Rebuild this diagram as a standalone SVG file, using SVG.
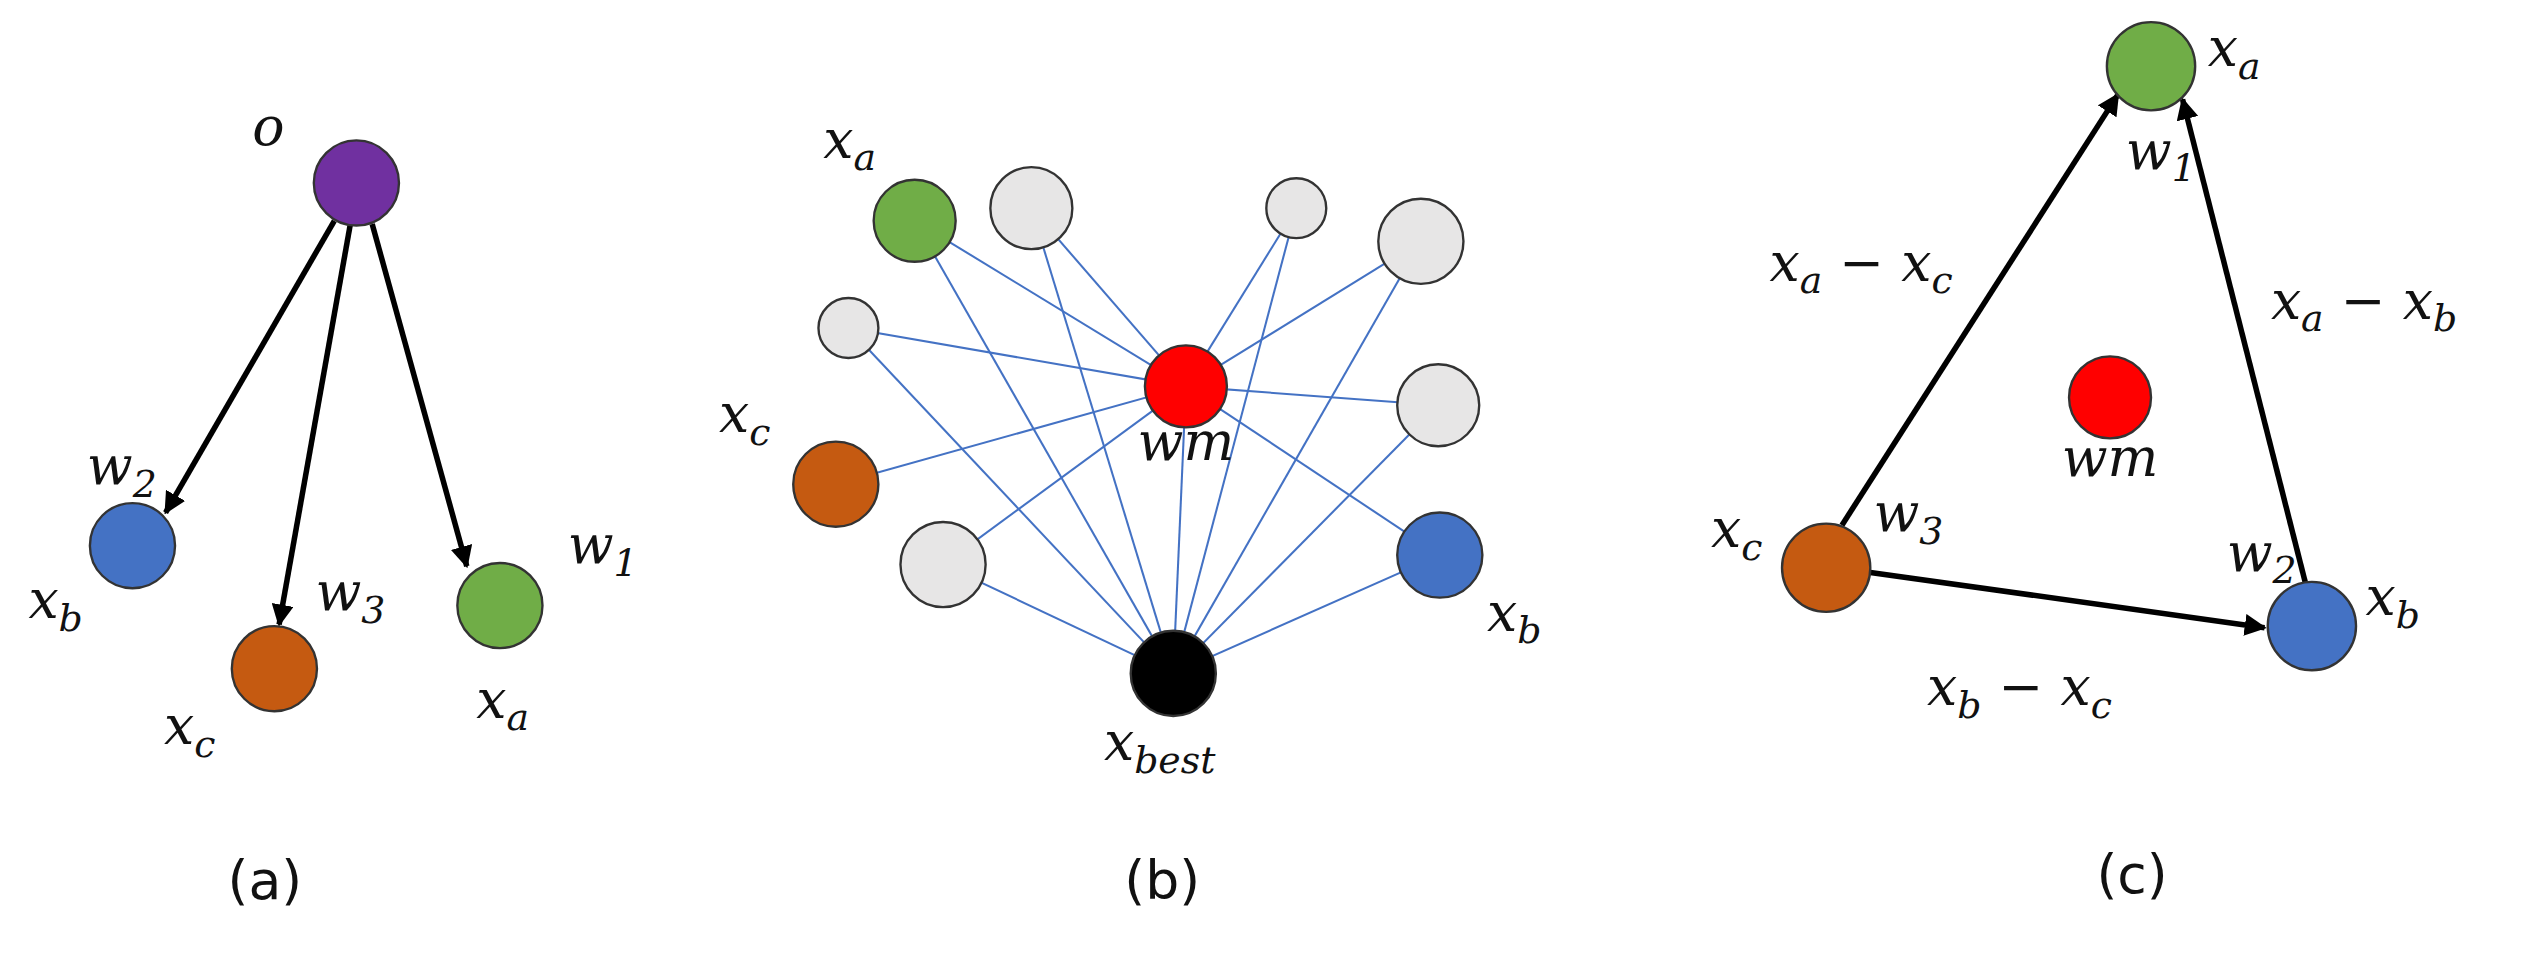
<svg xmlns="http://www.w3.org/2000/svg" width="2523" height="955" viewBox="0 0 2523 955">
<style>
.n{stroke:#333;stroke-width:1.5}
.m{font-family:"DejaVu Serif",serif;font-style:italic;font-size:34px;fill:#111}
.s{font-size:24px}
.cap{font-family:"DejaVu Sans",sans-serif;font-size:34px;fill:#111}
.a{stroke:#000;stroke-width:3.5;fill:none;marker-end:url(#ah)}
.l{stroke:#4472c4;stroke-width:1.3}
</style>
<defs><marker id="ah" viewBox="0 0 10 10" refX="9" refY="5" markerWidth="4" markerHeight="4" orient="auto"><path d="M0,0L10,5L0,10z" fill="#000"/></marker></defs>
<rect width="2523" height="955" fill="#fff"/>
<g transform="scale(1.577)">
<g id="connectors">
<line class="a" x1="212" y1="140" x2="105" y2="325"/>
<line class="a" x1="222" y1="143" x2="177" y2="396"/>
<line class="a" x1="236" y1="142" x2="296" y2="359"/>
<g>
<line class="l" x1="580" y1="140" x2="744" y2="427"/><line class="l" x1="580" y1="140" x2="752" y2="245"/>
<line class="l" x1="654" y1="132" x2="744" y2="427"/><line class="l" x1="654" y1="132" x2="752" y2="245"/>
<line class="l" x1="822" y1="132" x2="744" y2="427"/><line class="l" x1="822" y1="132" x2="752" y2="245"/>
<line class="l" x1="901" y1="153" x2="744" y2="427"/><line class="l" x1="901" y1="153" x2="752" y2="245"/>
<line class="l" x1="538" y1="208" x2="744" y2="427"/><line class="l" x1="538" y1="208" x2="752" y2="245"/>
<line class="l" x1="912" y1="257" x2="744" y2="427"/><line class="l" x1="912" y1="257" x2="752" y2="245"/>
<line class="l" x1="530" y1="307" x2="752" y2="245"/>
<line class="l" x1="598" y1="358" x2="752" y2="245"/><line class="l" x1="598" y1="358" x2="744" y2="427"/>
<line class="l" x1="913" y1="352" x2="744" y2="427"/><line class="l" x1="913" y1="352" x2="752" y2="245"/>
<line class="l" x1="752" y1="245" x2="744" y2="427"/>
</g>
<line class="a" x1="1168" y1="333" x2="1343" y2="60"/>
<line class="a" x1="1462" y1="370" x2="1384" y2="63"/>
<line class="a" x1="1186" y1="363" x2="1436" y2="398"/>
</g>
<g id="a-o"><circle class="n" cx="226" cy="116" r="27" fill="#7030a0"/><text class="m" x="160" y="92">o</text></g>
<g id="a-xb"><circle class="n" cx="84" cy="346" r="27" fill="#4472c4"/><text class="m" x="55" y="307">w<tspan class="s" dy="8">2</tspan></text><text class="m" x="18" y="392">x<tspan class="s" dy="8">b</tspan></text></g>
<g id="a-xc"><circle class="n" cx="174" cy="424" r="27" fill="#c55a11"/><text class="m" x="200" y="387">w<tspan class="s" dy="8">3</tspan></text><text class="m" x="104" y="472">x<tspan class="s" dy="8">c</tspan></text></g>
<g id="a-xa"><circle class="n" cx="317" cy="384" r="27" fill="#70ad47"/><text class="m" x="360" y="357">w<tspan class="s" dy="8">1</tspan></text><text class="m" x="302" y="455">x<tspan class="s" dy="8">a</tspan></text></g>
<text class="cap" x="168" y="570" text-anchor="middle">(a)</text>
<g id="b-xa"><circle class="n" cx="580" cy="140" r="26" fill="#70ad47"/><text class="m" x="522" y="100">x<tspan class="s" dy="8">a</tspan></text></g>
<g id="b-g1"><circle class="n" cx="654" cy="132" r="26" fill="#e7e6e6"/></g>
<g id="b-g2"><circle class="n" cx="822" cy="132" r="19" fill="#e7e6e6"/></g>
<g id="b-g3"><circle class="n" cx="901" cy="153" r="27" fill="#e7e6e6"/></g>
<g id="b-g4"><circle class="n" cx="538" cy="208" r="19" fill="#e7e6e6"/></g>
<g id="b-g5"><circle class="n" cx="912" cy="257" r="26" fill="#e7e6e6"/></g>
<g id="b-g6"><circle class="n" cx="598" cy="358" r="27" fill="#e7e6e6"/></g>
<g id="b-wm"><circle class="n" cx="752" cy="245" r="26" fill="#ff0000"/><text class="m" x="752" y="292" text-anchor="middle">wm</text></g>
<g id="b-xc"><circle class="n" cx="530" cy="307" r="27" fill="#c55a11"/><text class="m" x="456" y="274">x<tspan class="s" dy="8">c</tspan></text></g>
<g id="b-xb"><circle class="n" cx="913" cy="352" r="27" fill="#4472c4"/><text class="m" x="943" y="400">x<tspan class="s" dy="8">b</tspan></text></g>
<g id="b-best"><circle class="n" cx="744" cy="427" r="27" fill="#000"/><text class="m" x="700" y="482">x<tspan class="s" dy="8">best</tspan></text></g>
<text class="cap" x="737" y="570" text-anchor="middle">(b)</text>
<g id="c-xa"><circle class="n" cx="1364" cy="42" r="28" fill="#70ad47"/><text class="m" x="1400" y="42">x<tspan class="s" dy="8">a</tspan></text><text class="m" x="1348" y="107">w<tspan class="s" dy="8">1</tspan></text></g>
<g id="c-wm"><circle class="n" cx="1338" cy="252" r="26" fill="#ff0000"/><text class="m" x="1338" y="302" text-anchor="middle">wm</text></g>
<g id="c-xc"><circle class="n" cx="1158" cy="360" r="28" fill="#c55a11"/><text class="m" x="1085" y="347">x<tspan class="s" dy="8">c</tspan></text><text class="m" x="1188" y="337">w<tspan class="s" dy="8">3</tspan></text></g>
<g id="c-xb"><circle class="n" cx="1466" cy="397" r="28" fill="#4472c4"/><text class="m" x="1500" y="390">x<tspan class="s" dy="8">b</tspan></text><text class="m" x="1412" y="362">w<tspan class="s" dy="8">2</tspan></text></g>
<text class="m" x="1122" y="178">x<tspan class="s" dy="8">a</tspan><tspan dy="-8"> − x</tspan><tspan class="s" dy="8">c</tspan></text>
<text class="m" x="1440" y="202">x<tspan class="s" dy="8">a</tspan><tspan dy="-8"> − x</tspan><tspan class="s" dy="8">b</tspan></text>
<text class="m" x="1222" y="447">x<tspan class="s" dy="8">b</tspan><tspan dy="-8"> − x</tspan><tspan class="s" dy="8">c</tspan></text>
<text class="cap" x="1352" y="566" text-anchor="middle">(c)</text>
</g>
</svg>
